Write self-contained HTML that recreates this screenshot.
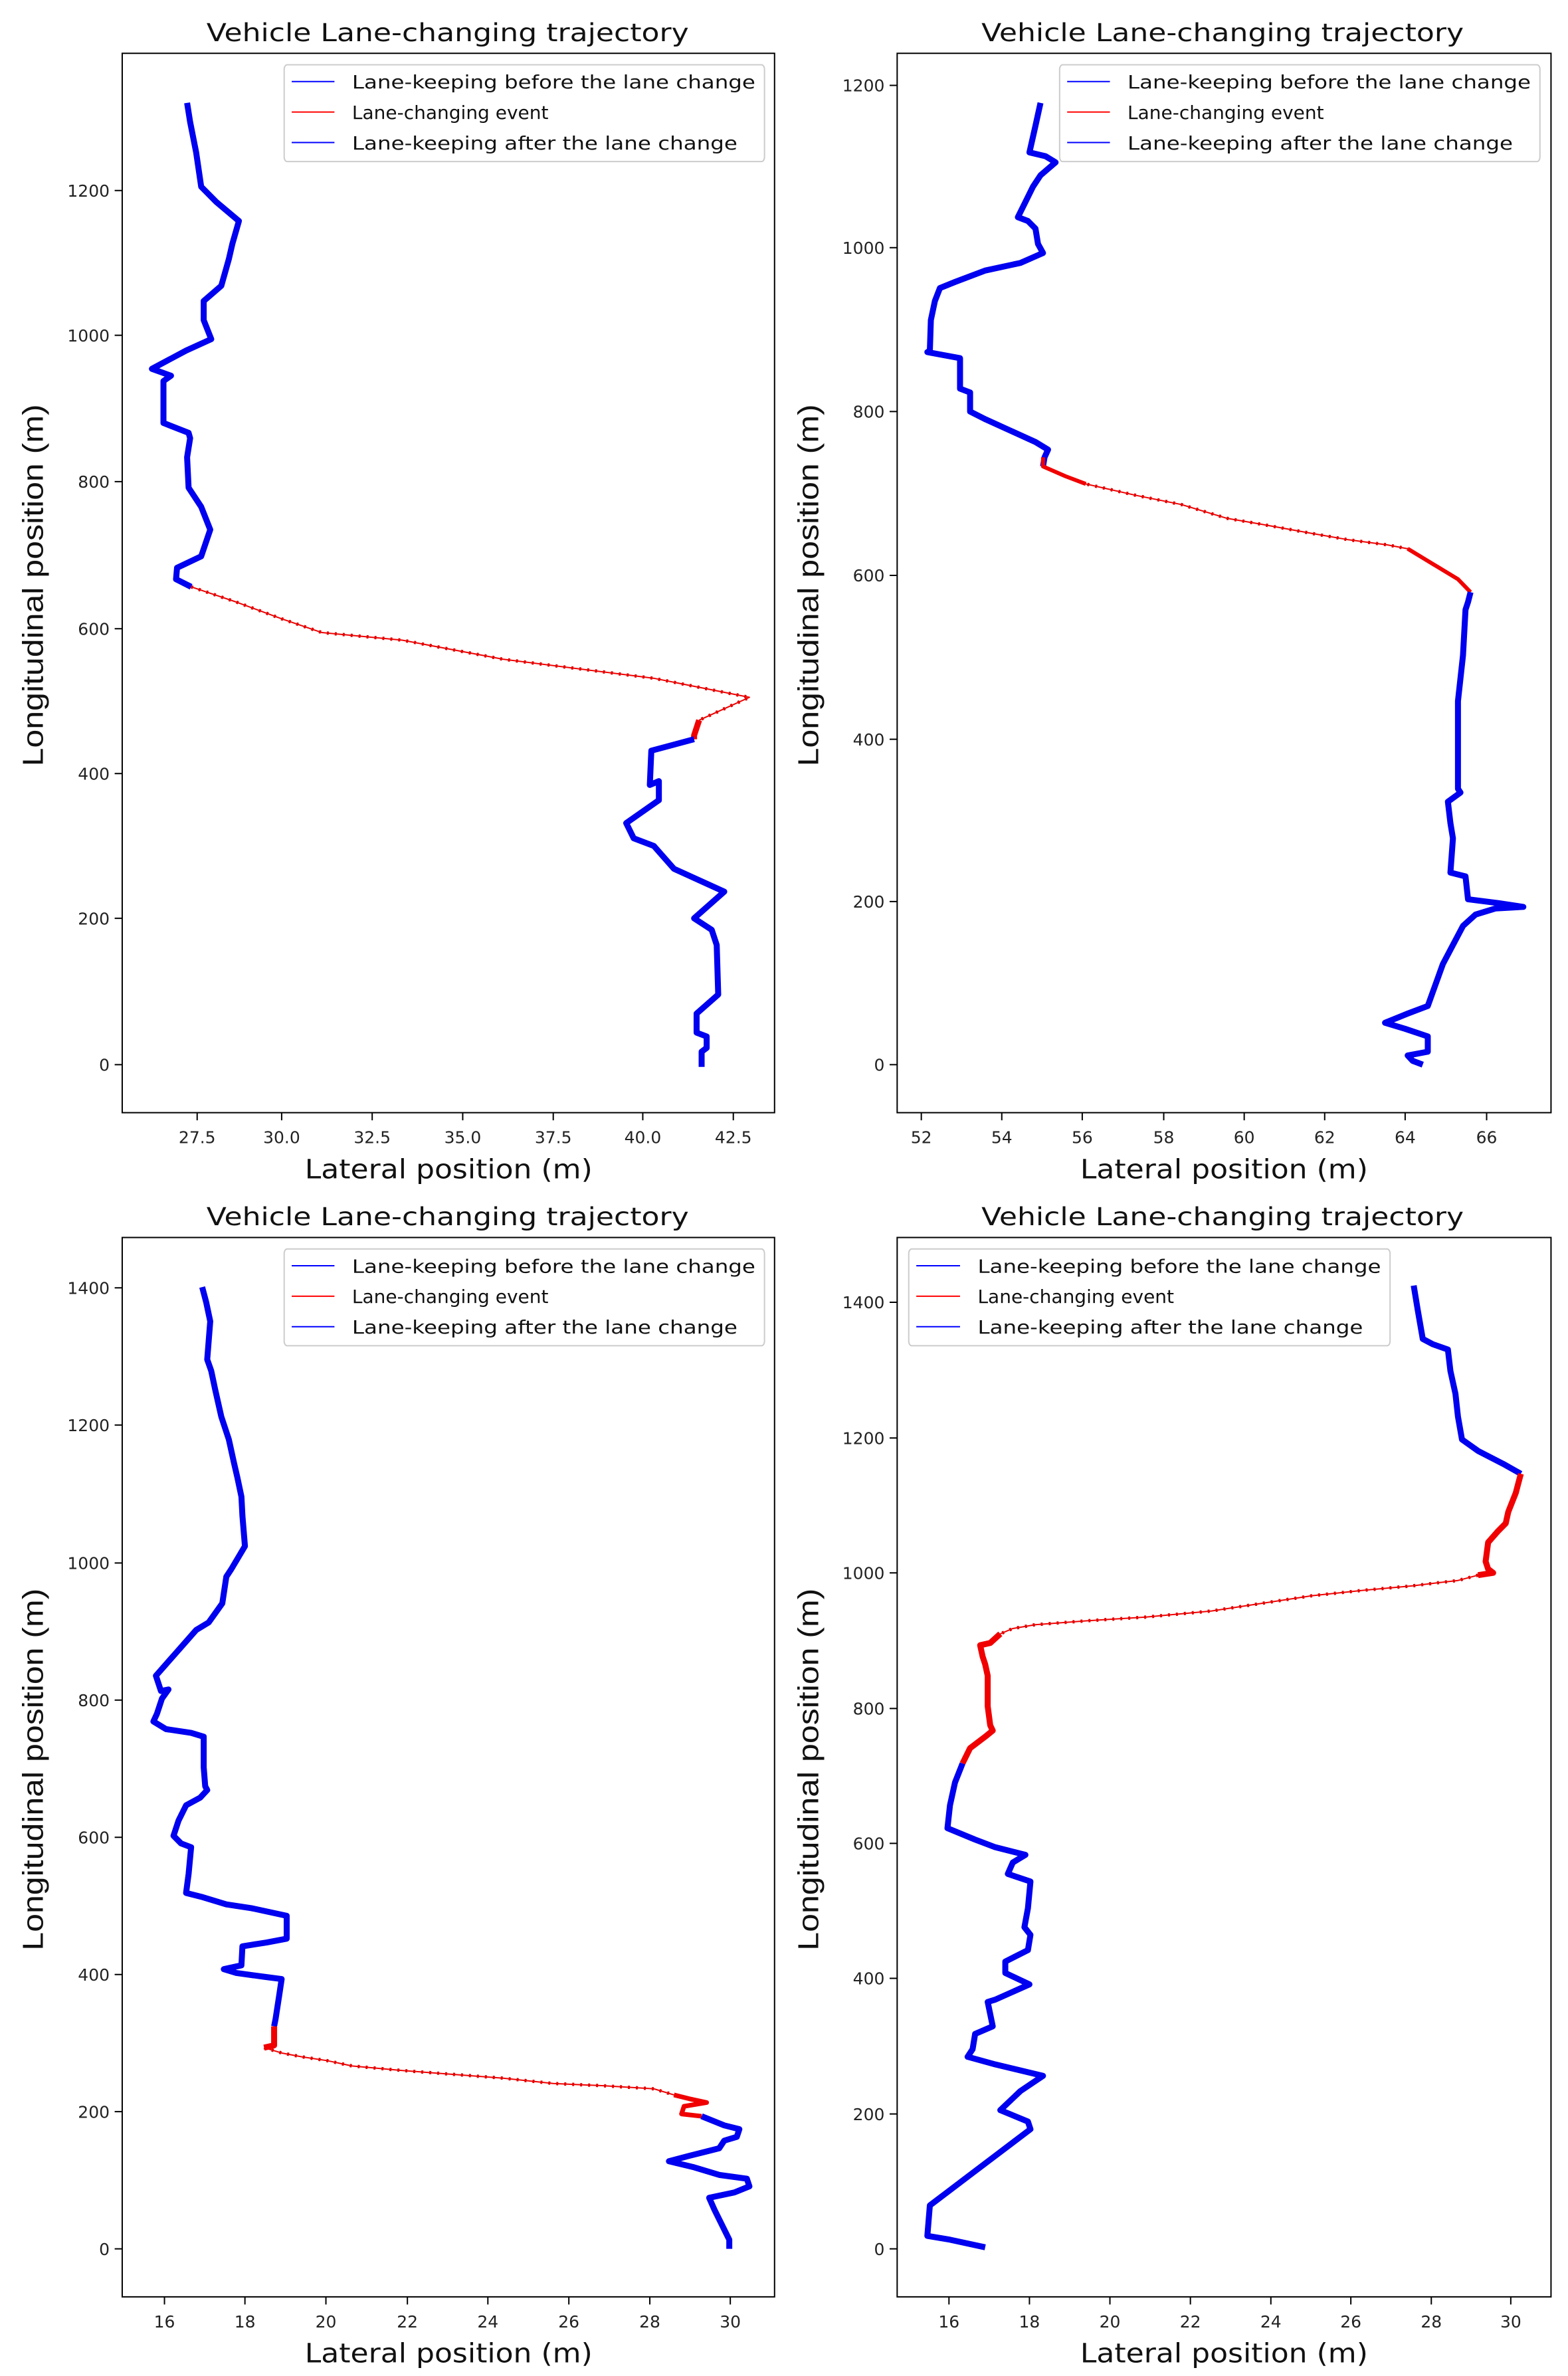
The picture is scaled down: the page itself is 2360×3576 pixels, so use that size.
<!DOCTYPE html>
<html><head><meta charset="utf-8"><style>
html,body{margin:0;padding:0;background:#fff;}
svg{display:block}
text{font-family:"DejaVu Sans","Liberation Sans",sans-serif;fill:#222}
.t{font-size:25px}
.ttl{font-size:37px;fill:#111}
.lg{font-size:28px;fill:#111}
.xl{font-size:40px;fill:#111}
.yl{font-family:"Liberation Sans",sans-serif;font-size:44px;fill:#111}
.fr{fill:none;stroke:#000;stroke-width:2}
.tk{stroke:#000;stroke-width:2}
.lb{fill:#fff;stroke:#ccc;stroke-width:2}
.b{fill:none;stroke:#0000f0;stroke-width:9;stroke-linejoin:round}
.r{fill:none;stroke:#f00000;stroke-width:2;stroke-linejoin:round}
.rm{fill:none;stroke:#e00000;stroke-width:5;stroke-dasharray:3 9}
.rt{fill:none;stroke:#f00000;stroke-width:9;stroke-linejoin:round}
.ls{stroke-width:2}
</style></head><body>
<svg width="2360" height="3576" viewBox="0 0 2360 3576" xmlns="http://www.w3.org/2000/svg">
<rect width="2360" height="3576" fill="#fff"/>

<!-- TL -->
<g transform="translate(0,0) scale(0.757,1.147)">
<rect class="fr" x="243" y="70" width="1297" height="1390" vector-effect="non-scaling-stroke"/>
<g class="tk" vector-effect="non-scaling-stroke">
<path vector-effect="non-scaling-stroke" class="tk" d="M228 1397H243M228 1205H243M228 1015H243M228 825H243M228 632H243M228 440H243M228 250H243M392 1460V1470M560 1460V1470M740 1460V1470M920 1460V1470M1100 1460V1470M1278 1460V1470M1458 1460V1470"/>
</g>
<g text-anchor="end">
<text class="t" transform="translate(218,1405) scale(1.321,0.872)">0</text>
<text class="t" transform="translate(218,1213) scale(1.321,0.872)">200</text>
<text class="t" transform="translate(218,1023) scale(1.321,0.872)">400</text>
<text class="t" transform="translate(218,833) scale(1.321,0.872)">600</text>
<text class="t" transform="translate(218,640) scale(1.321,0.872)">800</text>
<text class="t" transform="translate(218,448) scale(1.321,0.872)">1000</text>
<text class="t" transform="translate(218,258) scale(1.321,0.872)">1200</text>
</g>
<g text-anchor="middle">
<text class="t" transform="translate(392,1500) scale(1.321,0.872)">27.5</text>
<text class="t" transform="translate(560,1500) scale(1.321,0.872)">30.0</text>
<text class="t" transform="translate(740,1500) scale(1.321,0.872)">32.5</text>
<text class="t" transform="translate(920,1500) scale(1.321,0.872)">35.0</text>
<text class="t" transform="translate(1100,1500) scale(1.321,0.872)">37.5</text>
<text class="t" transform="translate(1278,1500) scale(1.321,0.872)">40.0</text>
<text class="t" transform="translate(1458,1500) scale(1.321,0.872)">42.5</text>
<text class="ttl" transform="translate(890,54) scale(1.321,0.872)" textLength="726" lengthAdjust="spacingAndGlyphs">Vehicle Lane-changing trajectory</text>
<text class="xl" transform="translate(892,1546) scale(1.321,0.872)" textLength="433" lengthAdjust="spacingAndGlyphs">Lateral position (m)</text>
<text class="yl" transform="translate(85,768) scale(1.321,0.872) rotate(-90)" textLength="545" lengthAdjust="spacingAndGlyphs">Longitudinal position (m)</text>
</g>
<rect class="lb" x="565" y="85" width="955" height="127" rx="6" vector-effect="non-scaling-stroke"/>
<path vector-effect="non-scaling-stroke" d="M580 107H665" stroke="#00f" class="ls"/>
<path vector-effect="non-scaling-stroke" d="M580 147H665" stroke="#f00" class="ls"/>
<path vector-effect="non-scaling-stroke" d="M580 187H665" stroke="#00f" class="ls"/>
<text class="lg" transform="translate(700,116) scale(1.321,0.872)" textLength="607" lengthAdjust="spacingAndGlyphs">Lane-keeping before the lane change</text>
<text class="lg" transform="translate(700,156) scale(1.321,0.872)">Lane-changing event</text>
<text class="lg" transform="translate(700,196) scale(1.321,0.872)" textLength="580" lengthAdjust="spacingAndGlyphs">Lane-keeping after the lane change</text>
<polyline class="b" vector-effect="non-scaling-stroke" points="372,135 378,160 390,200 400,245 430,265 475,290 462,320 455,340 440,375 405,395 405,420 420,445 370,460 302,484 340,493 325,500 325,555 375,568 378,575 372,600 375,640 400,665 418,695 400,730 352,745 350,760 380,770"/>
<polyline class="r" vector-effect="non-scaling-stroke" points="380,770 470,790 560,812 640,830 800,840 1000,865 1300,890 1490,915 1440,930 1390,945"/>
<polyline class="rm" vector-effect="non-scaling-stroke" points="380,770 470,790 560,812 640,830 800,840 1000,865 1300,890 1490,915 1440,930 1390,945"/>
<polyline class="rt" vector-effect="non-scaling-stroke" points="1390,945 1380,965 1380,970"/>
<polyline class="b" vector-effect="non-scaling-stroke" points="1380,970 1295,985 1292,1030 1310,1025 1310,1050 1245,1080 1260,1100 1300,1110 1340,1140 1440,1170 1380,1205 1415,1220 1425,1240 1428,1305 1385,1330 1385,1355 1405,1360 1405,1375 1395,1380 1395,1400"/>
</g>

<!-- TR -->
<g transform="translate(1180,0) scale(0.757,1.147)">
<rect class="fr" x="225" y="70" width="1300" height="1390" vector-effect="non-scaling-stroke"/>
<path vector-effect="non-scaling-stroke" class="tk" d="M210 1397H225M210 1183H225M210 970H225M210 755H225M210 540H225M210 325H225M210 112H225M273 1460V1470M433 1460V1470M593 1460V1470M755 1460V1470M915 1460V1470M1075 1460V1470M1235 1460V1470M1397 1460V1470"/>
<g text-anchor="end">
<text class="t" transform="translate(200,1405) scale(1.321,0.872)">0</text>
<text class="t" transform="translate(200,1191) scale(1.321,0.872)">200</text>
<text class="t" transform="translate(200,978) scale(1.321,0.872)">400</text>
<text class="t" transform="translate(200,763) scale(1.321,0.872)">600</text>
<text class="t" transform="translate(200,548) scale(1.321,0.872)">800</text>
<text class="t" transform="translate(200,333) scale(1.321,0.872)">1000</text>
<text class="t" transform="translate(200,120) scale(1.321,0.872)">1200</text>
</g>
<g text-anchor="middle">
<text class="t" transform="translate(273,1500) scale(1.321,0.872)">52</text>
<text class="t" transform="translate(433,1500) scale(1.321,0.872)">54</text>
<text class="t" transform="translate(593,1500) scale(1.321,0.872)">56</text>
<text class="t" transform="translate(755,1500) scale(1.321,0.872)">58</text>
<text class="t" transform="translate(915,1500) scale(1.321,0.872)">60</text>
<text class="t" transform="translate(1075,1500) scale(1.321,0.872)">62</text>
<text class="t" transform="translate(1235,1500) scale(1.321,0.872)">64</text>
<text class="t" transform="translate(1397,1500) scale(1.321,0.872)">66</text>
<text class="ttl" transform="translate(872,54) scale(1.321,0.872)" textLength="726" lengthAdjust="spacingAndGlyphs">Vehicle Lane-changing trajectory</text>
<text class="xl" transform="translate(875,1546) scale(1.321,0.872)" textLength="433" lengthAdjust="spacingAndGlyphs">Lateral position (m)</text>
<text class="yl" transform="translate(68,768) scale(1.321,0.872) rotate(-90)" textLength="545" lengthAdjust="spacingAndGlyphs">Longitudinal position (m)</text>
</g>
<rect class="lb" x="548" y="85" width="955" height="127" rx="6" vector-effect="non-scaling-stroke"/>
<path vector-effect="non-scaling-stroke" d="M563 107H648" stroke="#00f" class="ls"/>
<path vector-effect="non-scaling-stroke" d="M563 147H648" stroke="#f00" class="ls"/>
<path vector-effect="non-scaling-stroke" d="M563 187H648" stroke="#00f" class="ls"/>
<text class="lg" transform="translate(683,116) scale(1.321,0.872)" textLength="607" lengthAdjust="spacingAndGlyphs">Lane-keeping before the lane change</text>
<text class="lg" transform="translate(683,156) scale(1.321,0.872)">Lane-changing event</text>
<text class="lg" transform="translate(683,196) scale(1.321,0.872)" textLength="580" lengthAdjust="spacingAndGlyphs">Lane-keeping after the lane change</text>
<polyline class="b" vector-effect="non-scaling-stroke" points="510,135 500,165 488,200 520,205 540,213 510,230 495,245 480,265 465,285 485,290 500,300 505,320 515,332 470,345 400,355 340,370 310,378 300,395 292,420 290,460 285,462 350,470 350,510 370,515 370,540 400,550 450,565 500,580 525,590 518,600 515,612"/>
<polyline class="r" vector-effect="non-scaling-stroke" points="515,612 560,625 600,635 700,650 790,662 880,680 950,688 1050,700 1120,708 1200,715 1240,720 1290,740 1340,760 1365,777"/>
<polyline class="rm" vector-effect="non-scaling-stroke" points="515,612 560,625 600,635 700,650 790,662 880,680 950,688 1050,700 1120,708 1200,715 1240,720"/>
<polyline class="rt" style="stroke-width:6" vector-effect="non-scaling-stroke" points="515,600 515,612 560,625 600,635"/>
<polyline class="rt" style="stroke-width:6" vector-effect="non-scaling-stroke" points="1240,720 1290,740 1340,760 1365,777"/>
<polyline class="b" vector-effect="non-scaling-stroke" points="1365,777 1360,790 1355,800 1350,860 1340,920 1340,1035 1345,1040 1320,1052 1325,1080 1330,1100 1325,1145 1355,1150 1360,1180 1420,1185 1470,1190 1415,1192 1375,1200 1350,1215 1330,1240 1310,1265 1280,1320 1240,1330 1195,1342 1235,1350 1280,1360 1280,1380 1240,1385 1250,1392 1270,1397"/>
</g>

<!-- BL -->
<g transform="translate(0,1788) scale(0.757,1.147)">
<rect class="fr" x="243" y="65" width="1297" height="1390" vector-effect="non-scaling-stroke"/>
<path vector-effect="non-scaling-stroke" class="tk" d="M228 1392H243M228 1212H243M228 1032H243M228 852H243M228 672H243M228 492H243M228 311H243M228 131H243M327 1455V1465M487 1455V1465M648 1455V1465M810 1455V1465M970 1455V1465M1131 1455V1465M1292 1455V1465M1452 1455V1465"/>
<g text-anchor="end">
<text class="t" transform="translate(218,1400) scale(1.321,0.872)">0</text>
<text class="t" transform="translate(218,1220) scale(1.321,0.872)">200</text>
<text class="t" transform="translate(218,1040) scale(1.321,0.872)">400</text>
<text class="t" transform="translate(218,860) scale(1.321,0.872)">600</text>
<text class="t" transform="translate(218,680) scale(1.321,0.872)">800</text>
<text class="t" transform="translate(218,500) scale(1.321,0.872)">1000</text>
<text class="t" transform="translate(218,319) scale(1.321,0.872)">1200</text>
<text class="t" transform="translate(218,139) scale(1.321,0.872)">1400</text>
</g>
<g text-anchor="middle">
<text class="t" transform="translate(327,1495) scale(1.321,0.872)">16</text>
<text class="t" transform="translate(487,1495) scale(1.321,0.872)">18</text>
<text class="t" transform="translate(648,1495) scale(1.321,0.872)">20</text>
<text class="t" transform="translate(810,1495) scale(1.321,0.872)">22</text>
<text class="t" transform="translate(970,1495) scale(1.321,0.872)">24</text>
<text class="t" transform="translate(1131,1495) scale(1.321,0.872)">26</text>
<text class="t" transform="translate(1292,1495) scale(1.321,0.872)">28</text>
<text class="t" transform="translate(1452,1495) scale(1.321,0.872)">30</text>
<text class="ttl" transform="translate(890,49) scale(1.321,0.872)" textLength="726" lengthAdjust="spacingAndGlyphs">Vehicle Lane-changing trajectory</text>
<text class="xl" transform="translate(892,1541) scale(1.321,0.872)" textLength="433" lengthAdjust="spacingAndGlyphs">Lateral position (m)</text>
<text class="yl" transform="translate(85,763) scale(1.321,0.872) rotate(-90)" textLength="545" lengthAdjust="spacingAndGlyphs">Longitudinal position (m)</text>
</g>
<rect class="lb" x="565" y="80" width="955" height="127" rx="6" vector-effect="non-scaling-stroke"/>
<path vector-effect="non-scaling-stroke" d="M580 102H665" stroke="#00f" class="ls"/>
<path vector-effect="non-scaling-stroke" d="M580 142H665" stroke="#f00" class="ls"/>
<path vector-effect="non-scaling-stroke" d="M580 182H665" stroke="#00f" class="ls"/>
<text class="lg" transform="translate(700,111) scale(1.321,0.872)" textLength="607" lengthAdjust="spacingAndGlyphs">Lane-keeping before the lane change</text>
<text class="lg" transform="translate(700,151) scale(1.321,0.872)">Lane-changing event</text>
<text class="lg" transform="translate(700,191) scale(1.321,0.872)" textLength="580" lengthAdjust="spacingAndGlyphs">Lane-keeping after the lane change</text>
<polyline class="b" vector-effect="non-scaling-stroke" points="402,130 410,150 418,175 415,200 412,225 420,240 428,265 440,300 455,330 465,360 472,380 480,405 482,430 487,470 478,480 460,500 450,510 442,545 415,570 390,580 370,595 350,610 330,625 310,640 320,660 335,658 322,670 312,690 305,700 330,710 380,715 405,720 405,760 408,785 412,790 398,800 370,810 355,830 345,850 360,860 380,865 375,900 370,925 400,930 450,940 500,945 570,955 570,985 530,990 482,995 480,1020 445,1025 470,1030 525,1035 560,1038 555,1060 548,1090 545,1100"/>
<polyline class="r" vector-effect="non-scaling-stroke" points="525,1128 560,1135 600,1140 650,1145 700,1152 800,1158 900,1163 1000,1168 1100,1175 1200,1178 1300,1182 1340,1190"/>
<polyline class="rm" vector-effect="non-scaling-stroke" points="525,1128 560,1135 600,1140 650,1145 700,1152 800,1158 900,1163 1000,1168 1100,1175 1200,1178 1300,1182 1340,1190"/>
<polyline class="rt" vector-effect="non-scaling-stroke" points="545,1100 545,1125 525,1128"/>
<polyline class="rt" style="stroke-width:7" vector-effect="non-scaling-stroke" points="1340,1190 1370,1195 1405,1200 1360,1205 1355,1215 1395,1218"/>
<polyline class="b" vector-effect="non-scaling-stroke" points="1395,1218 1440,1230 1470,1235 1465,1245 1440,1250 1430,1260 1400,1265 1370,1270 1330,1277 1380,1285 1430,1295 1485,1300 1490,1310 1460,1318 1410,1325 1420,1340 1450,1380 1450,1392"/>
</g>

<!-- BR -->
<g transform="translate(1180,1788) scale(0.757,1.147)">
<rect class="fr" x="225" y="65" width="1300" height="1390" vector-effect="non-scaling-stroke"/>
<path vector-effect="non-scaling-stroke" class="tk" d="M210 1392H225M210 1215H225M210 1037H225M210 860H225M210 683H225M210 505H225M210 328H225M210 150H225M328 1455V1465M488 1455V1465M648 1455V1465M808 1455V1465M968 1455V1465M1127 1455V1465M1287 1455V1465M1445 1455V1465"/>
<g text-anchor="end">
<text class="t" transform="translate(200,1400) scale(1.321,0.872)">0</text>
<text class="t" transform="translate(200,1223) scale(1.321,0.872)">200</text>
<text class="t" transform="translate(200,1045) scale(1.321,0.872)">400</text>
<text class="t" transform="translate(200,868) scale(1.321,0.872)">600</text>
<text class="t" transform="translate(200,691) scale(1.321,0.872)">800</text>
<text class="t" transform="translate(200,513) scale(1.321,0.872)">1000</text>
<text class="t" transform="translate(200,336) scale(1.321,0.872)">1200</text>
<text class="t" transform="translate(200,158) scale(1.321,0.872)">1400</text>
</g>
<g text-anchor="middle">
<text class="t" transform="translate(328,1495) scale(1.321,0.872)">16</text>
<text class="t" transform="translate(488,1495) scale(1.321,0.872)">18</text>
<text class="t" transform="translate(648,1495) scale(1.321,0.872)">20</text>
<text class="t" transform="translate(808,1495) scale(1.321,0.872)">22</text>
<text class="t" transform="translate(968,1495) scale(1.321,0.872)">24</text>
<text class="t" transform="translate(1127,1495) scale(1.321,0.872)">26</text>
<text class="t" transform="translate(1287,1495) scale(1.321,0.872)">28</text>
<text class="t" transform="translate(1445,1495) scale(1.321,0.872)">30</text>
<text class="ttl" transform="translate(872,49) scale(1.321,0.872)" textLength="726" lengthAdjust="spacingAndGlyphs">Vehicle Lane-changing trajectory</text>
<text class="xl" transform="translate(875,1541) scale(1.321,0.872)" textLength="433" lengthAdjust="spacingAndGlyphs">Lateral position (m)</text>
<text class="yl" transform="translate(68,763) scale(1.321,0.872) rotate(-90)" textLength="545" lengthAdjust="spacingAndGlyphs">Longitudinal position (m)</text>
</g>
<rect class="lb" x="248" y="80" width="957" height="127" rx="6" vector-effect="non-scaling-stroke"/>
<path vector-effect="non-scaling-stroke" d="M263 102H350" stroke="#00f" class="ls"/>
<path vector-effect="non-scaling-stroke" d="M263 142H350" stroke="#f00" class="ls"/>
<path vector-effect="non-scaling-stroke" d="M263 182H350" stroke="#00f" class="ls"/>
<text class="lg" transform="translate(385,111) scale(1.321,0.872)" textLength="607" lengthAdjust="spacingAndGlyphs">Lane-keeping before the lane change</text>
<text class="lg" transform="translate(385,151) scale(1.321,0.872)">Lane-changing event</text>
<text class="lg" transform="translate(385,191) scale(1.321,0.872)" textLength="580" lengthAdjust="spacingAndGlyphs">Lane-keeping after the lane change</text>
<polyline class="b" vector-effect="non-scaling-stroke" points="1252,128 1260,160 1270,198 1290,205 1320,212 1325,240 1335,270 1340,300 1348,330 1380,345 1430,362 1465,375"/>
<polyline class="rt" vector-effect="non-scaling-stroke" points="1465,375 1455,400 1440,425 1435,440 1420,450 1400,465 1395,490 1400,500 1410,505 1380,508"/>
<polyline class="r" vector-effect="non-scaling-stroke" points="1380,508 1340,515 1300,518 1250,522 1150,528 1050,535 950,545 850,555 720,563 600,568 500,573 455,578 430,585"/>
<polyline class="rm" vector-effect="non-scaling-stroke" points="1380,508 1340,515 1300,518 1250,522 1150,528 1050,535 950,545 850,555 720,563 600,568 500,573 455,578 430,585"/>
<polyline class="rt" vector-effect="non-scaling-stroke" points="430,585 410,597 390,600 395,615 400,625 405,640 405,680 410,705 415,712 400,720 370,735 355,755"/>
<polyline class="b" vector-effect="non-scaling-stroke" points="355,755 340,780 330,810 325,840 380,855 420,865 480,875 455,885 445,900 490,910 485,945 478,970 490,980 485,1000 440,1015 440,1030 488,1045 420,1065 405,1068 415,1100 380,1110 375,1130 365,1140 420,1150 515,1165 470,1185 430,1210 485,1225 490,1235 420,1270 360,1300 320,1320 290,1335 285,1375 330,1380 400,1390"/>
</g>
</svg>
</body></html>
